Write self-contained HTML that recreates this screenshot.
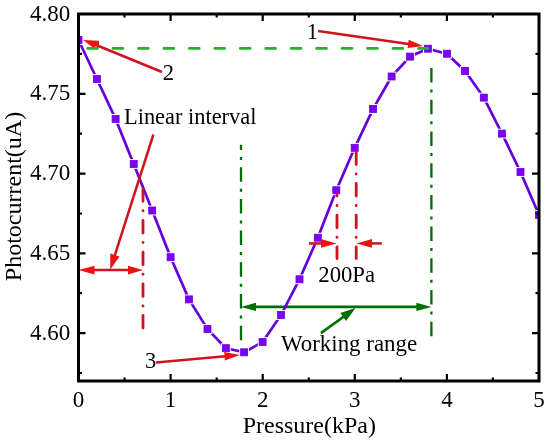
<!DOCTYPE html><html><head><meta charset="utf-8"><style>html,body{margin:0;padding:0;background:#fff;}svg{display:block;}text{font-family:"Liberation Serif",serif;fill:#000;}</style></head><body>
<svg width="550" height="442" viewBox="0 0 550 442">
<defs><clipPath id="c"><rect x="78.5" y="14.0" width="460.5" height="367.0"/></clipPath></defs>
<g>
<line x1="252.0" y1="306.9" x2="420.0" y2="306.9" stroke="#006e00" stroke-width="2.7"/>
<polygon fill="#006e00" points="241.0,306.9 256.0,311.1 256.0,302.7"/>
<polygon fill="#006e00" points="431.4,306.9 416.4,302.7 416.4,311.1"/>
<g clip-path="url(#c)">
<polyline fill="none" stroke="#6400da" stroke-width="2.7" stroke-linejoin="round" points="78.5,40.0 96.9,79.0 115.6,118.9 133.7,164.0 152.2,210.5 170.6,257.2 189.0,299.4 207.5,329.1 225.9,348.2 244.1,352.3 262.6,342.0 281.0,315.0 299.5,279.3 317.8,237.7 336.3,190.3 354.7,147.8 373.1,108.9 391.6,76.5 410.0,56.6 427.9,48.7 446.9,53.7 465.1,70.9 483.8,97.6 502.0,133.6 520.5,172.0 539.0,214.9"/>
<rect x="73.60" y="35.10" width="9.8" height="9.8" fill="#fff"/>
<rect x="75.00" y="36.50" width="7.0" height="7.0" fill="#7a00f8" stroke="#6a00dc" stroke-width="0.8"/>
<rect x="92.00" y="74.10" width="9.8" height="9.8" fill="#fff"/>
<rect x="93.40" y="75.50" width="7.0" height="7.0" fill="#7a00f8" stroke="#6a00dc" stroke-width="0.8"/>
<rect x="110.70" y="114.00" width="9.8" height="9.8" fill="#fff"/>
<rect x="112.10" y="115.40" width="7.0" height="7.0" fill="#7a00f8" stroke="#6a00dc" stroke-width="0.8"/>
<rect x="128.80" y="159.10" width="9.8" height="9.8" fill="#fff"/>
<rect x="130.20" y="160.50" width="7.0" height="7.0" fill="#7a00f8" stroke="#6a00dc" stroke-width="0.8"/>
<rect x="147.30" y="205.60" width="9.8" height="9.8" fill="#fff"/>
<rect x="148.70" y="207.00" width="7.0" height="7.0" fill="#7a00f8" stroke="#6a00dc" stroke-width="0.8"/>
<rect x="165.70" y="252.30" width="9.8" height="9.8" fill="#fff"/>
<rect x="167.10" y="253.70" width="7.0" height="7.0" fill="#7a00f8" stroke="#6a00dc" stroke-width="0.8"/>
<rect x="184.10" y="294.50" width="9.8" height="9.8" fill="#fff"/>
<rect x="185.50" y="295.90" width="7.0" height="7.0" fill="#7a00f8" stroke="#6a00dc" stroke-width="0.8"/>
<rect x="202.60" y="324.20" width="9.8" height="9.8" fill="#fff"/>
<rect x="204.00" y="325.60" width="7.0" height="7.0" fill="#7a00f8" stroke="#6a00dc" stroke-width="0.8"/>
<rect x="221.00" y="343.30" width="9.8" height="9.8" fill="#fff"/>
<rect x="222.40" y="344.70" width="7.0" height="7.0" fill="#7a00f8" stroke="#6a00dc" stroke-width="0.8"/>
<rect x="239.20" y="347.40" width="9.8" height="9.8" fill="#fff"/>
<rect x="240.60" y="348.80" width="7.0" height="7.0" fill="#7a00f8" stroke="#6a00dc" stroke-width="0.8"/>
<rect x="257.70" y="337.10" width="9.8" height="9.8" fill="#fff"/>
<rect x="259.10" y="338.50" width="7.0" height="7.0" fill="#7a00f8" stroke="#6a00dc" stroke-width="0.8"/>
<rect x="276.10" y="310.10" width="9.8" height="9.8" fill="#fff"/>
<rect x="277.50" y="311.50" width="7.0" height="7.0" fill="#7a00f8" stroke="#6a00dc" stroke-width="0.8"/>
<rect x="294.60" y="274.40" width="9.8" height="9.8" fill="#fff"/>
<rect x="296.00" y="275.80" width="7.0" height="7.0" fill="#7a00f8" stroke="#6a00dc" stroke-width="0.8"/>
<rect x="312.90" y="232.80" width="9.8" height="9.8" fill="#fff"/>
<rect x="314.30" y="234.20" width="7.0" height="7.0" fill="#7a00f8" stroke="#6a00dc" stroke-width="0.8"/>
<rect x="331.40" y="185.40" width="9.8" height="9.8" fill="#fff"/>
<rect x="332.80" y="186.80" width="7.0" height="7.0" fill="#7a00f8" stroke="#6a00dc" stroke-width="0.8"/>
<rect x="349.80" y="142.90" width="9.8" height="9.8" fill="#fff"/>
<rect x="351.20" y="144.30" width="7.0" height="7.0" fill="#7a00f8" stroke="#6a00dc" stroke-width="0.8"/>
<rect x="368.20" y="104.00" width="9.8" height="9.8" fill="#fff"/>
<rect x="369.60" y="105.40" width="7.0" height="7.0" fill="#7a00f8" stroke="#6a00dc" stroke-width="0.8"/>
<rect x="386.70" y="71.60" width="9.8" height="9.8" fill="#fff"/>
<rect x="388.10" y="73.00" width="7.0" height="7.0" fill="#7a00f8" stroke="#6a00dc" stroke-width="0.8"/>
<rect x="405.10" y="51.70" width="9.8" height="9.8" fill="#fff"/>
<rect x="406.50" y="53.10" width="7.0" height="7.0" fill="#7a00f8" stroke="#6a00dc" stroke-width="0.8"/>
<rect x="423.00" y="43.80" width="9.8" height="9.8" fill="#fff"/>
<rect x="424.40" y="45.20" width="7.0" height="7.0" fill="#7a00f8" stroke="#6a00dc" stroke-width="0.8"/>
<rect x="442.00" y="48.80" width="9.8" height="9.8" fill="#fff"/>
<rect x="443.40" y="50.20" width="7.0" height="7.0" fill="#7a00f8" stroke="#6a00dc" stroke-width="0.8"/>
<rect x="460.20" y="66.00" width="9.8" height="9.8" fill="#fff"/>
<rect x="461.60" y="67.40" width="7.0" height="7.0" fill="#7a00f8" stroke="#6a00dc" stroke-width="0.8"/>
<rect x="478.90" y="92.70" width="9.8" height="9.8" fill="#fff"/>
<rect x="480.30" y="94.10" width="7.0" height="7.0" fill="#7a00f8" stroke="#6a00dc" stroke-width="0.8"/>
<rect x="497.10" y="128.70" width="9.8" height="9.8" fill="#fff"/>
<rect x="498.50" y="130.10" width="7.0" height="7.0" fill="#7a00f8" stroke="#6a00dc" stroke-width="0.8"/>
<rect x="515.60" y="167.10" width="9.8" height="9.8" fill="#fff"/>
<rect x="517.00" y="168.50" width="7.0" height="7.0" fill="#7a00f8" stroke="#6a00dc" stroke-width="0.8"/>
<rect x="534.10" y="210.00" width="9.8" height="9.8" fill="#fff"/>
<rect x="535.50" y="211.40" width="7.0" height="7.0" fill="#7a00f8" stroke="#6a00dc" stroke-width="0.8"/>
</g>
<line x1="87.6" y1="48.4" x2="428.0" y2="48.4" stroke="#22b22a" stroke-width="2.8" stroke-linecap="round" stroke-dasharray="9.8 15.65" stroke-dashoffset="0.0"/>
<line x1="143.0" y1="188.7" x2="143.0" y2="328.0" stroke="#cf1420" stroke-width="2.8" stroke-linecap="round" stroke-dasharray="12.6 9.4 0.2 9.5" stroke-dashoffset="0.0"/>
<line x1="356.2" y1="151.8" x2="356.2" y2="258.5" stroke="#cf1420" stroke-width="2.8" stroke-linecap="round" stroke-dasharray="12.6 9.4 0.2 9.5" stroke-dashoffset="0.0"/>
<line x1="337.0" y1="194.5" x2="337.0" y2="258.5" stroke="#cf1420" stroke-width="2.8" stroke-linecap="round" stroke-dasharray="12.6 9.4 0.2 9.5" stroke-dashoffset="11.0"/>
<line x1="241.0" y1="144.8" x2="241.0" y2="340.3" stroke="#006e00" stroke-width="2.3" stroke-dasharray="14.5 7 3 7.2" stroke-dashoffset="9.3"/>
<line x1="431.4" y1="68.1" x2="431.4" y2="337.0" stroke="#006e00" stroke-width="2.3" stroke-dasharray="14.5 7 3 7.2" stroke-dashoffset="0.0"/>
<line x1="162.0" y1="72.0" x2="90.0" y2="42.5" stroke="#cf1420" stroke-width="2.5"/>
<polygon fill="#ee1111" points="83,40 99,40.8 99,45 93,47.5"/>
<line x1="318.0" y1="31.1" x2="412.0" y2="44.5" stroke="#cf1420" stroke-width="2.5"/>
<polygon fill="#ee1111" points="423.0,46.0 408.7,39.7 407.6,48.1"/>
<line x1="156.0" y1="362.4" x2="228.0" y2="356.0" stroke="#cf1420" stroke-width="2.5"/>
<polygon fill="#ee1111" points="240.0,354.9 224.2,352.1 224.9,360.5"/>
<line x1="153.4" y1="134.5" x2="113.0" y2="261.0" stroke="#cf1420" stroke-width="2.5"/>
<polygon fill="#ee1111" points="110.2,269.8 119.5,256.5 110.3,253.6"/>
<line x1="90.0" y1="270.1" x2="132.0" y2="270.1" stroke="#cf1420" stroke-width="2.5"/>
<polygon fill="#ee1111" points="78.5,270.1 94.5,274.5 94.5,265.7"/>
<polygon fill="#ee1111" points="143.0,270.1 128.0,265.7 128.0,274.5"/>
<line x1="309.0" y1="243.4" x2="325.0" y2="243.4" stroke="#cf1420" stroke-width="2.5"/>
<polygon fill="#ee1111" points="336.5,243.4 321.0,239.0 321.0,247.8"/>
<line x1="368.0" y1="243.4" x2="381.8" y2="243.4" stroke="#cf1420" stroke-width="2.5"/>
<polygon fill="#ee1111" points="356.5,243.4 372.0,247.8 372.0,239.0"/>
<line x1="320.9" y1="333.2" x2="346.0" y2="315.0" stroke="#006e00" stroke-width="2.7"/>
<polygon fill="#006e00" points="355.5,308.1 340.3,313.1 346.1,321.0"/>
<rect x="78.5" y="14.0" width="460.5" height="367.0" fill="none" stroke="#000" stroke-width="3"/>
<path d="M78.5 381.0V374.0 M78.5 14.0V21.0 M124.5 381.0V377.5 M124.5 14.0V17.5 M170.6 381.0V374.0 M170.6 14.0V21.0 M216.7 381.0V377.5 M216.7 14.0V17.5 M262.7 381.0V374.0 M262.7 14.0V21.0 M308.8 381.0V377.5 M308.8 14.0V17.5 M354.8 381.0V374.0 M354.8 14.0V21.0 M400.9 381.0V377.5 M400.9 14.0V17.5 M446.9 381.0V374.0 M446.9 14.0V21.0 M492.9 381.0V377.5 M492.9 14.0V17.5 M539.0 381.0V374.0 M539.0 14.0V21.0 M78.5 373.0H82.0 M539.0 373.0H535.5 M78.5 333.1H85.5 M539.0 333.1H532.0 M78.5 293.2H82.0 M539.0 293.2H535.5 M78.5 253.3H85.5 M539.0 253.3H532.0 M78.5 213.5H82.0 M539.0 213.5H535.5 M78.5 173.6H85.5 M539.0 173.6H532.0 M78.5 133.7H82.0 M539.0 133.7H535.5 M78.5 93.8H85.5 M539.0 93.8H532.0 M78.5 53.9H82.0 M539.0 53.9H535.5 M78.5 14.0H85.5 M539.0 14.0H532.0" stroke="#000" stroke-width="2.2" fill="none"/>
<text x="78.5" y="407.3" font-size="23" text-anchor="middle">0</text>
<text x="170.6" y="407.3" font-size="23" text-anchor="middle">1</text>
<text x="262.7" y="407.3" font-size="23" text-anchor="middle">2</text>
<text x="354.8" y="407.3" font-size="23" text-anchor="middle">3</text>
<text x="446.9" y="407.3" font-size="23" text-anchor="middle">4</text>
<text x="539.0" y="407.3" font-size="23" text-anchor="middle">5</text>
<text x="70.3" y="20.6" font-size="23" text-anchor="end">4.80</text>
<text x="70.3" y="100.4" font-size="23" text-anchor="end">4.75</text>
<text x="70.3" y="180.2" font-size="23" text-anchor="end">4.70</text>
<text x="70.3" y="259.9" font-size="23" text-anchor="end">4.65</text>
<text x="70.3" y="339.7" font-size="23" text-anchor="end">4.60</text>
<text x="309.3" y="433" font-size="24" text-anchor="middle">Pressure(kPa)</text>
<text transform="translate(20.5,196.5) rotate(-90)" font-size="24" text-anchor="middle">Photocurrent(uA)</text>
<text x="306.8" y="38.7" font-size="22.5">1</text>
<text x="162.8" y="80" font-size="22.5">2</text>
<text x="145" y="367.6" font-size="22.5">3</text>
<text x="124" y="124.3" font-size="22.4">Linear interval</text>
<text x="318.3" y="282.2" font-size="22.7">200Pa</text>
<text x="281" y="351.3" font-size="22.9">Working range</text>
</g></svg></body></html>
